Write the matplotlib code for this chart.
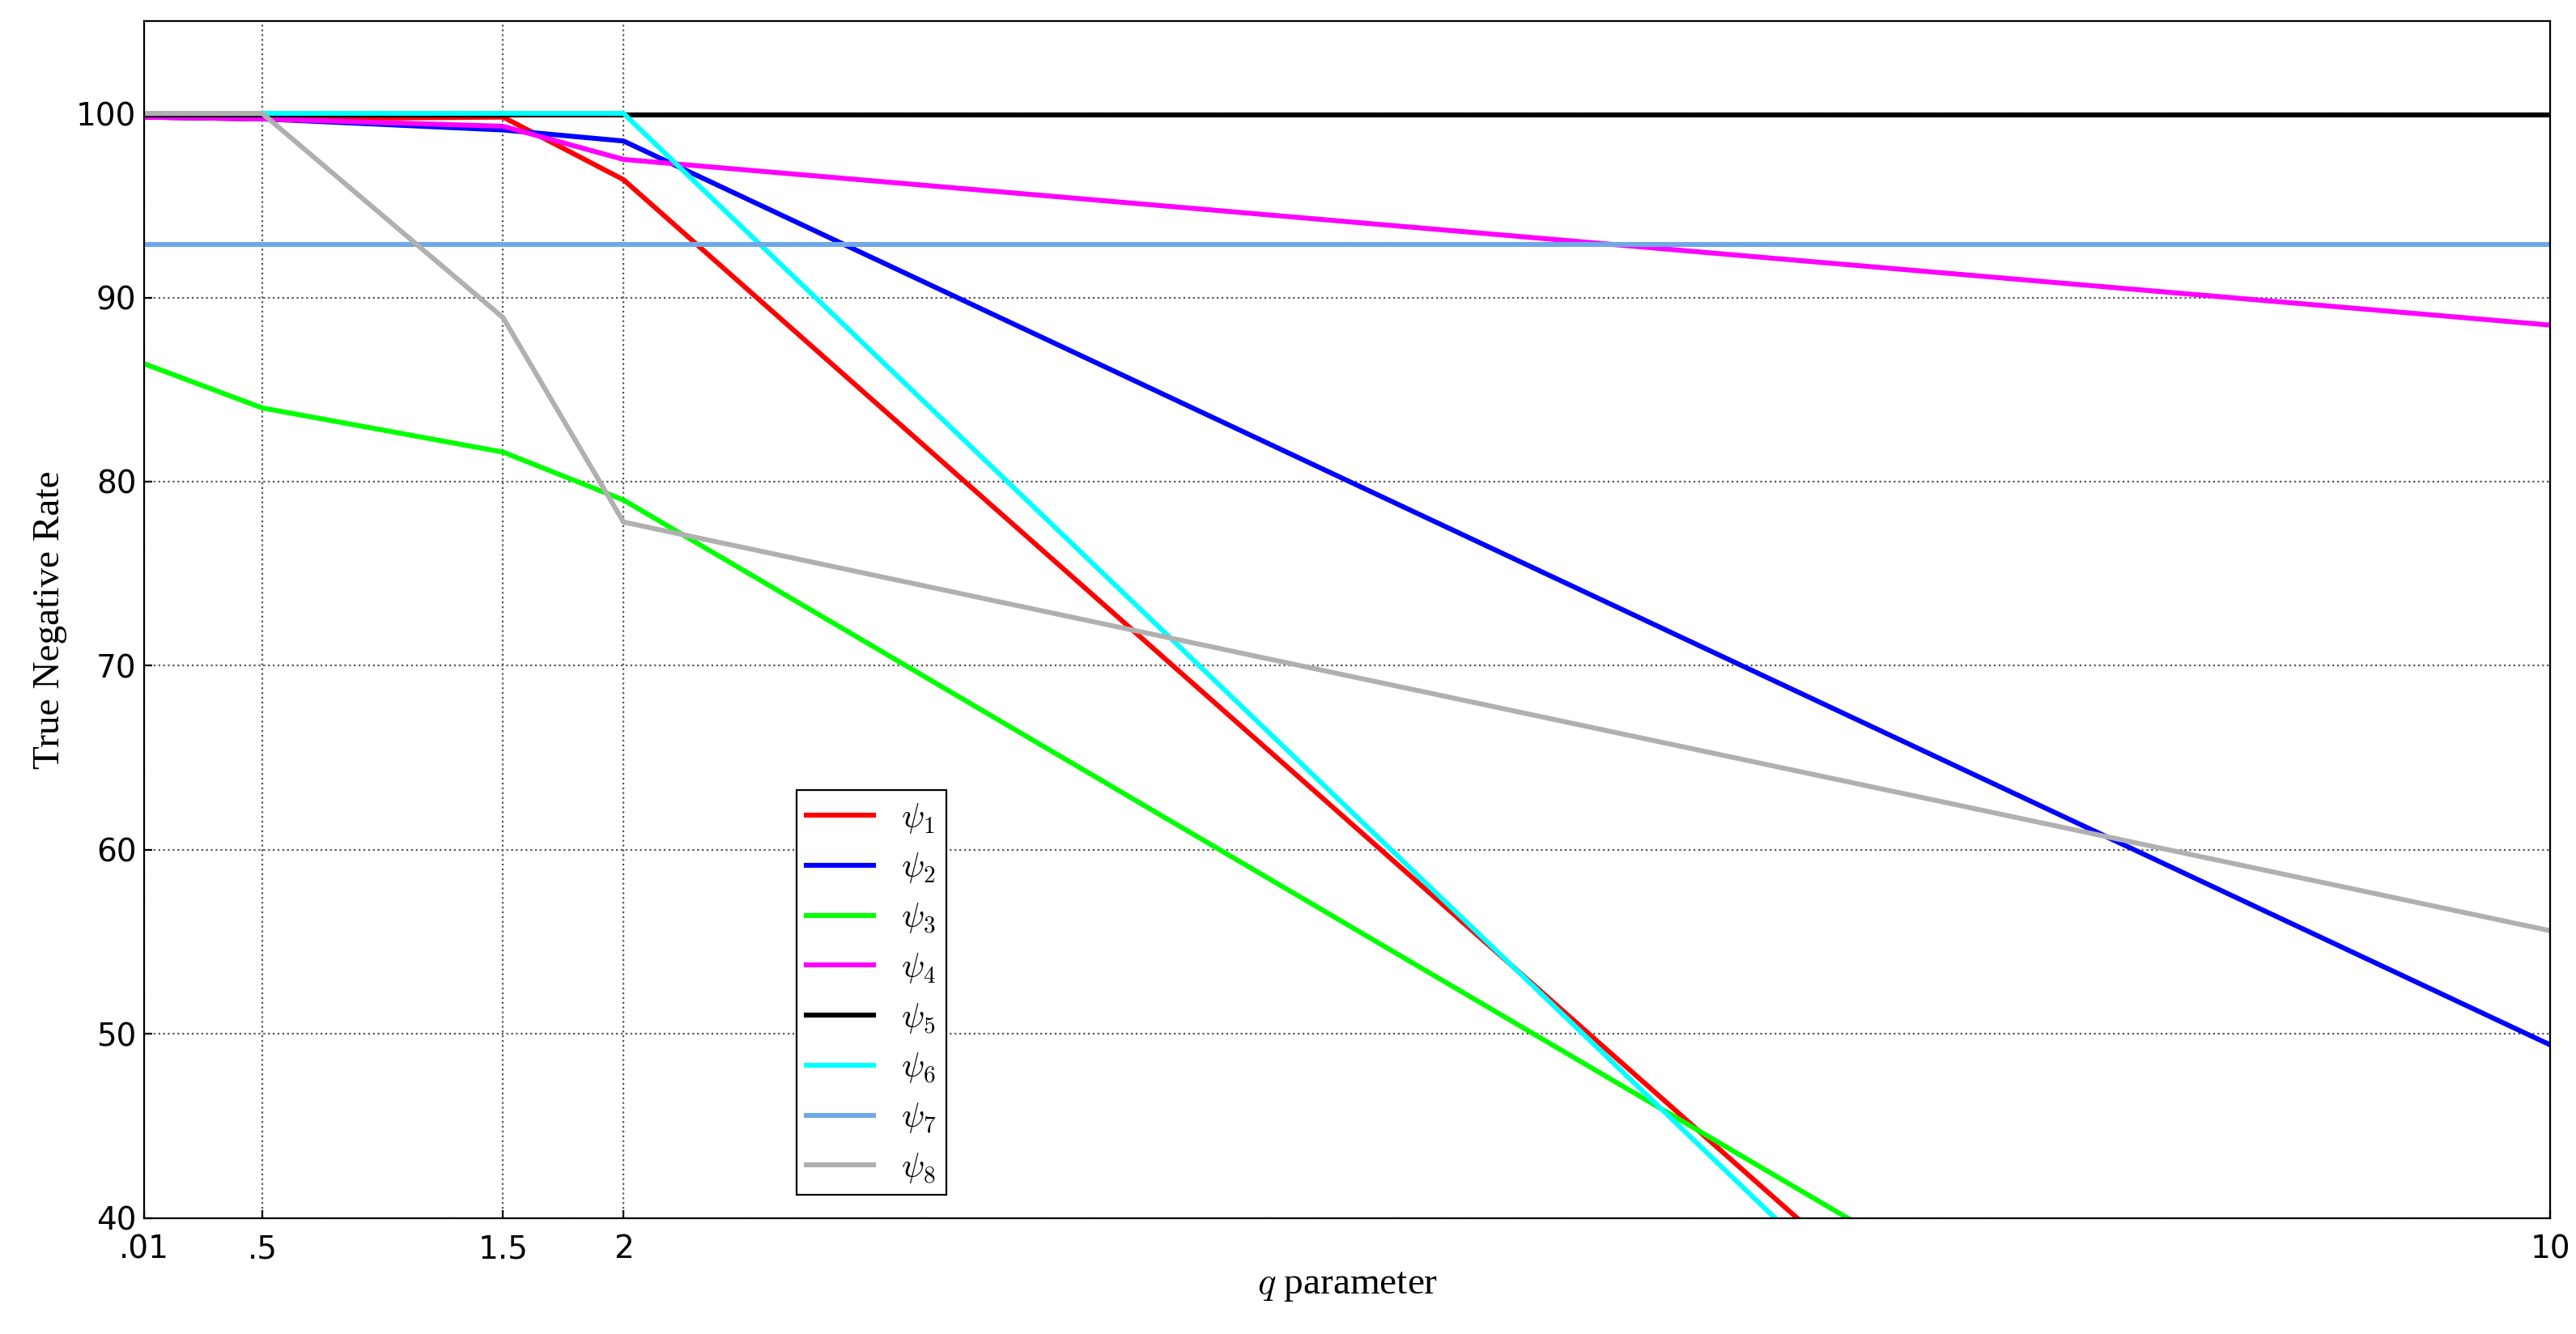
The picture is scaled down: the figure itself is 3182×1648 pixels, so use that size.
import matplotlib
matplotlib.use("Agg")
import matplotlib.pyplot as plt

q = [0.01, 0.5, 1.5, 2, 10]
xtick_labels = [".01", ".5", "1.5", "2", "10"]
psi1 = [99.8, 99.7, 99.8, 96.4, 3.8]
psi2 = [99.8, 99.7, 99.1, 98.5, 49.4]
psi3 = [86.4, 84.0, 81.6, 79.0, 17.6]
psi4 = [99.8, 99.7, 99.3, 97.5, 88.5]
psi5 = [99.9, 99.9, 99.9, 99.9, 99.9]
psi6 = [100, 100, 100, 100, -0.4]
psi7 = [92.9, 92.9, 92.9, 92.9, 92.9]
psi8 = [100, 100, 88.9, 77.8, 55.6]

series = [psi1, psi2, psi3, psi4, psi5, psi6, psi7, psi8]
colors = ["#ff0000", "#0000ff", "#00ff00", "#ff00ff", "#000000", "#00ffff", "#6fa8e6", "#b0b0b0"]

plt.rcParams['mathtext.fontset'] = 'cm'
fig = plt.figure(figsize=(15.91, 8.24), dpi=200)
ax = fig.add_axes([0.056, 0.087, 0.934, 0.897])
for i, (s, c) in enumerate(zip(series, colors)):
    ax.plot(q, s, color=c, lw=2.2, label=r"$\psi_{%d}$" % (i + 1))
ax.set_xlim(0.01, 10)
ax.set_ylim(40, 105)
ax.set_xticks(q)
ax.set_xticklabels(xtick_labels)
ax.set_yticks([40, 50, 60, 70, 80, 90, 100])
ax.tick_params(labelsize=14, direction='in')
ax.tick_params(axis='x', pad=7)
ax.grid(True, linestyle=':', color='#555555', lw=0.8)
ax.set_xlabel(r"$q$ parameter", fontsize=17, family="Liberation Serif", labelpad=2)
ax.set_ylabel("True Negative Rate", fontsize=17, family="Liberation Serif")
leg = ax.legend(loc="lower left", bbox_to_anchor=(0.264, 0.005), fontsize=15,
                fancybox=False, edgecolor='black', framealpha=1, handlelength=2.0,
                labelspacing=0.45, borderpad=0.3)
leg.get_frame().set_linewidth(0.8)
fig.savefig("out.png")
